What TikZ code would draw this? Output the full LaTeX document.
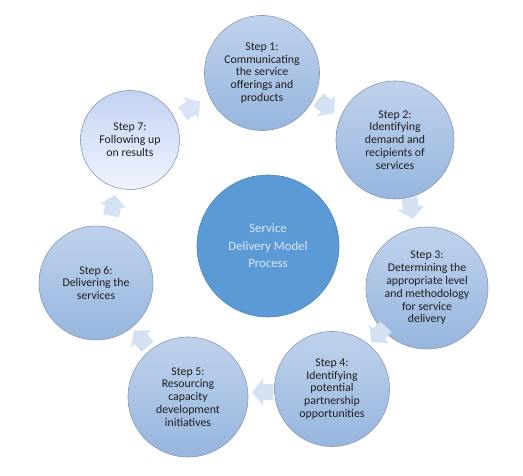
\documentclass[tikz,border=0pt]{standalone}
\usepackage{fontspec}
\setmainfont{Carlito}
\definecolor{stepTop}{HTML}{BFD2EC}
\definecolor{stepBot}{HTML}{97B5DE}
\definecolor{stepLine}{HTML}{8899B2}
\definecolor{sevenTop}{HTML}{C3D2F3}
\definecolor{sevenBot}{HTML}{F1F4FE}
\definecolor{hubFill}{HTML}{5B9AD4}
\definecolor{hubLine}{HTML}{4E86BE}
\definecolor{hubText}{HTML}{DCE8F6}
\definecolor{arrowFill}{HTML}{D4E1F2}
\definecolor{arrowSeven}{HTML}{DBE4F7}
\definecolor{txt}{HTML}{1E1E1E}
\tikzset{
  stepcircle/.style={circle, draw=stepLine, line width=0.6pt, top color=stepTop, bottom color=stepBot,
    align=center, inner sep=0pt, text=txt, font=\fontsize{11.8}{12.8}\selectfont},
  sevencircle/.style={stepcircle, top color=sevenTop, bottom color=sevenBot},
  hub/.style={circle, draw=hubLine, line width=0.6pt, fill=hubFill, align=center, inner sep=0pt,
    text=hubText, font=\fontsize{12.8}{17.5}\selectfont, minimum size=142pt},
  blockarrow/.style={fill=arrowFill, draw=none},
}
\newcommand{\blockarrowpath}{(-10,-8) -- (0,-8) -- (0,-13.5) -- (11,0) -- (0,13.5) -- (0,8) -- (-10,8) -- cycle}
\begin{document}
\begin{tikzpicture}[x=1pt, y=-1pt]
\useasboundingbox (0,0) rectangle (523,476);
\fill[white] (0,0) rectangle (523,476);

\node[hub] (hub) at (268,246) {Service\\Delivery Model\\Process};

\node[stepcircle, minimum size=115pt] (s1) at (262,73) {Step 1:\\Communicating\\the service\\offerings and\\products};
\node[stepcircle, minimum size=118pt] (s2) at (395,140) {Step 2:\\Identifying\\demand and\\recipients of\\services};
\node[stepcircle, minimum size=122pt] (s3) at (427,288) {Step 3:\\Determining the\\appropriate level\\and methodology\\for service\\delivery};
\node[stepcircle, minimum size=115pt] (s4) at (332,389) {Step 4:\\Identifying\\potential\\partnership\\opportunities};
\node[stepcircle, minimum size=120pt] (s5) at (188,397) {Step 5:\\Resourcing\\capacity\\development\\initiatives};
\node[stepcircle, minimum size=114pt] (s6) at (96,283) {Step 6:\\Delivering the\\services};
\node[sevencircle, minimum size=99pt] (s7) at (130,140) {Step 7:\\Following up\\on results};

\coordinate (a71) at (191,108);
\coordinate (a12) at (326,106);
\coordinate (a23) at (411,208);
\coordinate (a34) at (379,334);
\coordinate (a45) at (263,392);
\coordinate (a56) at (141,339);
\coordinate (a67) at (113,206);

\fill[blockarrow, fill=arrowSeven, shift={(a71)}, rotate=35] \blockarrowpath;
\fill[blockarrow, shift={(a12)}, rotate=-40] \blockarrowpath;
\fill[blockarrow, shift={(a23)}, rotate=-80] \blockarrowpath;
\fill[blockarrow, shift={(a34)}, rotate=-133] \blockarrowpath;
\fill[blockarrow, shift={(a45)}, rotate=180] \blockarrowpath;
\fill[blockarrow, shift={(a56)}, rotate=130] \blockarrowpath;
\fill[blockarrow, shift={(a67)}, rotate=80] \blockarrowpath;
\end{tikzpicture}
\end{document}
